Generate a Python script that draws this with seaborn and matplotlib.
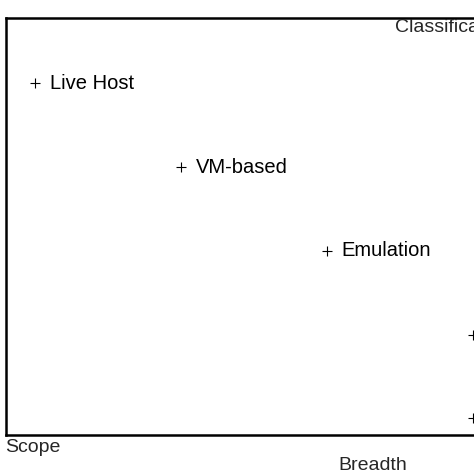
import matplotlib
matplotlib.use('Agg')
import matplotlib.pyplot as plt
import seaborn as sns
import pandas as pd

labels = ['Live Host', 'VM-based', 'Emulation', '', '']
breadth = [1, 2, 3, 4, 4]
scope = [5, 4, 3, 2, 1]

sns.set_style('white')
plt.rcParams['font.family'] = ['Liberation Sans', 'DejaVu Sans']

df = pd.DataFrame({'breadth': breadth, 'scope': scope, 'label': labels})

fig = plt.figure(figsize=(4.74, 4.74), dpi=100)
ax = fig.add_axes([6/474, 39/474, 657/474, 417/474])
sns.scatterplot(data=df, x='breadth', y='scope', marker='+', color='black',
                s=50, linewidth=0.8, ax=ax, legend=False)
for _, r in df.iterrows():
    if r['label']:
        ax.text(r['breadth'] + 0.1, r['scope'], r['label'], va='center',
                fontsize=14.5, color='black')

ax.set_xlim(0.8, 5.3)
ax.set_ylim(0.8, 5.78)
ax.set_xticks([])
ax.set_yticks([])
ax.set_xlabel('')
ax.set_ylabel('')
for sp in ax.spines.values():
    sp.set_color('black')
    sp.set_linewidth(1.8)

fig.text(395/474, 1 - 28/474, 'Classification', fontsize=14, va='center', ha='left')
fig.text(5/474, 1 - 448/474, 'Scope', fontsize=14, va='center', ha='left')
fig.text(338/474, 1 - 466/474, 'Breadth', fontsize=14, va='center', ha='left')

fig.savefig('out.png', dpi=100)
